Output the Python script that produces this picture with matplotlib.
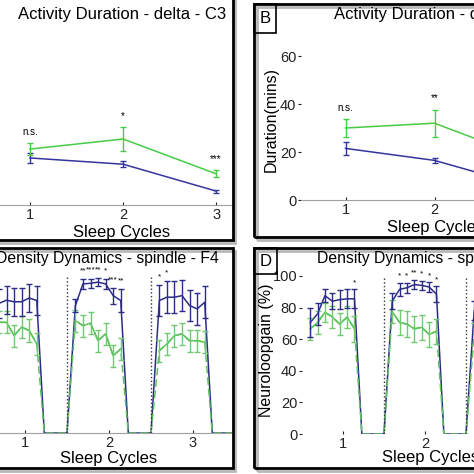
import numpy as np
import matplotlib.pyplot as plt
from matplotlib.patches import Rectangle

plt.rcParams['font.family'] = ['Liberation Sans', 'DejaVu Sans']

W = H = 474

# ---------------- data ----------------
cycles = [1, 2, 3]

# activity duration (mins) - panels A and B
durA_green = [23.3, 27.5, 13.0]
durA_green_err = [2.6, 4.9, 1.5]
durA_blue = [19.6, 17.0, 5.8]
durA_blue_err = [2.0, 1.2, 0.6]
sigA = ['n.s.', '*', '***']

durB_green = [30.0, 32.0, 18.0]
durB_green_err = [3.8, 5.7, 2.0]
durB_blue = [21.5, 16.5, 6.0]
durB_blue_err = [2.8, 1.0, 0.8]
sigB = ['n.s.', '**', '***']

# density dynamics (%) - 7 bins per cycle, then 4 empty bins
densC_blue = [[80, 82, 84, 83, 83, 85.4, 83.8],
              [80.6, 94.3, 94.7, 95.4, 94.3, 86.9, 83.8],
              [83.8, 85.9, 85.9, 86.9, 80.6, 78.5, 82.7]]
densC_blue_err = [[9, 9, 9, 9, 9, 9, 9],
                  [4, 3, 3, 2.5, 3, 5, 7],
                  [10, 10, 10, 10, 10, 10, 10]]
densC_green = [[68, 70, 70, 61.6, 67, 64.8, 56.3],
               [71.1, 67.9, 69.4, 58.4, 62.7, 48.9, 53.2],
               [52.1, 56.3, 61.6, 62.7, 58.4, 58.4, 57.4]]
densC_green_err = [[7, 7, 7, 7, 7, 7, 7],
                   [7, 7, 7, 7, 7, 7, 7],
                   [7, 7, 7, 7, 7, 7, 7]]
sigC_cycle = [2, 2, 2, 2, 2, 2, 3, 3]
sigC_bin = [1, 2, 3, 4, 5, 6, 0, 1]
sigC_label = ['**', '***', '**', '*', '***', '**', '*', '*']

densD_blue = [[70.5, 76, 87.5, 84, 85, 85.5, 85.5],
              [84, 91.5, 92.5, 94.5, 94, 93, 88.5],
              [78, 85, 86, 86, 84, 82, 83]]
densD_blue_err = [[9, 7, 4, 5, 6, 6, 6],
                  [5, 4, 3, 3, 3, 3, 5],
                  [6, 6, 6, 6, 6, 6, 6]]
densD_green = [[66.5, 70.5, 77, 74, 69.5, 74, 66.5],
               [77.5, 70.5, 69.5, 66.5, 67.5, 63, 65],
               [63, 65, 67, 66, 64, 63, 62]]
densD_green_err = [[7, 7, 6, 7, 7, 7, 8],
                   [7, 8, 8, 8, 8, 8, 8],
                   [7, 7, 7, 7, 7, 7, 7]]
sigD_cycle = [1, 2, 2, 2, 2, 2, 2]
sigD_bin = [6, 1, 2, 3, 4, 5, 6]
sigD_label = ['*', '*', '*', '**', '*', '*', '*']

n_bins = 7
n_empty = 4

GREEN = '#46cc46'
BLUE = '#34349c'
GREEN2 = '#5cc45c'
BLUE2 = '#2c2c86'


def px_axes(fig, x0, y0, x1, y1):
    # pixel box (from top-left) -> axes
    return fig.add_axes([x0 / W, 1 - y1 / H, (x1 - x0) / W, (y1 - y0) / H])


def frame(fig, x0, y0, x1, y1, lw, color='black'):
    r = Rectangle((x0 / W, 1 - y1 / H), (x1 - x0) / W, (y1 - y0) / H,
                  transform=fig.transFigure, fill=False, lw=lw,
                  edgecolor=color, clip_on=False)
    fig.add_artist(r)


def style(ax, show_bottom=True, show_ylabels=True):
    ax.patch.set_alpha(0)
    for s in ['top', 'right', 'left']:
        ax.spines[s].set_visible(False)
    ax.spines['bottom'].set_visible(show_bottom)
    ax.spines['bottom'].set_color('#a0a0a0')
    ax.tick_params(axis='x', direction='in', length=2, pad=2,
                   labelsize=10.5, colors='#222222')
    ax.tick_params(axis='y', direction='out', length=2.5, pad=1,
                   labelsize=10.5, colors='#222222',
                   labelleft=show_ylabels, left=show_ylabels)
    ax.set_xticks(cycles)


def duration_panel(ax, green, green_err, blue, blue_err, sig):
    ax.errorbar(cycles, blue, yerr=blue_err, color=BLUE, lw=1.1,
                elinewidth=1, capsize=2)
    ax.errorbar(cycles, green, yerr=green_err, color=GREEN, lw=1.1,
                elinewidth=1, capsize=2)
    for c, g, e, s in zip(cycles, green, green_err, sig):
        ax.text(c, g + e + 2.5, s, ha='center', va='bottom', fontsize=7)
    ax.set_ylim(0, 65)
    ax.set_yticks([0, 20, 40, 60])


def density_panel(ax, blue, blue_err, green, green_err,
                  sig_c, sig_b, sig_l, off):
    xs, bs, gs = [], [], []
    for ci, c in enumerate(cycles):
        for k in range(n_bins + n_empty):
            xs.append(c - 0.4 + 0.09 * k)
            bs.append(blue[ci][k] if k < n_bins else 0)
            gs.append(green[ci][k] if k < n_bins else 0)
    ax.plot(xs, bs, color=BLUE2, lw=1.1)
    ax.plot(xs, gs, color=GREEN2, lw=1.1, dashes=(5, 2.5))
    for ci, c in enumerate(cycles):
        xd = [c - 0.4 + 0.09 * k for k in range(n_bins)]
        ax.plot(xd, green[ci], color=GREEN2, lw=1.1)
        ax.errorbar(xd, green[ci], yerr=green_err[ci], fmt='none',
                    ecolor='#70c870', elinewidth=1, capsize=2)
        ax.errorbar(xd, blue[ci], yerr=blue_err[ci], fmt='none',
                    ecolor=BLUE2, elinewidth=1, capsize=2)
    for c, b, l in zip(sig_c, sig_b, sig_l):
        x = c - 0.4 + 0.09 * b
        y = blue[c - 1][b] + blue_err[c - 1][b] + off
        ax.text(x, y, l, ha='center', va='bottom', fontsize=6)
    ax.vlines([1.5, 2.5], 0, 99, colors='#333333', linestyles=':', lw=1)
    ax.set_ylim(0, 105)
    ax.set_yticks([0, 20, 40, 60, 80, 100])


fig = plt.figure(figsize=(W / 100, H / 100), dpi=100)

# panel A
axA = px_axes(fig, -16.5, 49, 231, 205)
style(axA, show_ylabels=False)
duration_panel(axA, durA_green, durA_green_err, durA_blue, durA_blue_err, sigA)
axA.set_xlim(0.5, 3.16)

# panel B
axB = px_axes(fig, 301, 44, 568, 200)
style(axB)
duration_panel(axB, durB_green, durB_green_err, durB_blue, durB_blue_err, sigB)
axB.set_xlim(0.5, 3.5)

# panel C
axC = px_axes(fig, -17, 267, 231.6, 433)
style(axC, show_ylabels=False)
density_panel(axC, densC_blue, densC_blue_err, densC_green, densC_green_err,
              sigC_cycle, sigC_bin, sigC_label, 3)
axC.set_xlim(0.5, 3.46)

# panel D
axD = px_axes(fig, 302, 268, 548, 434)
style(axD, show_bottom=False)
density_panel(axD, densD_blue, densD_blue_err, densD_green, densD_green_err,
              sigD_cycle, sigD_bin, sigD_label, 2)
axD.set_xlim(0.5, 3.5)

# frames with a soft shadow
boxes = [(-10, -10, 233, 240), (254, 4, 490, 237),
         (-10, 248, 233, 468), (254, 248, 490, 468)]
for x0, y0, x1, y1 in boxes:
    frame(fig, x0 + 2.5, y0 + 2.5, x1 + 2.5, y1 + 2.5, 2, '#b8b8b8')
for x0, y0, x1, y1 in boxes:
    frame(fig, x0, y0, x1, y1, 2)

frame(fig, 254, 4, 276, 33, 1.2)
frame(fig, 254, 248, 277, 274, 1.2)
fig.text(265 / W, 1 - 18.5 / H, 'B', ha='center', va='center', fontsize=12)
fig.text(265.5 / W, 1 - 261 / H, 'D', ha='center', va='center', fontsize=12)

# titles and labels
fig.text(122.5 / W, 1 - 15 / H, 'Activity Duration - delta - C3',
         ha='center', va='center', fontsize=12)
fig.text(334 / W, 1 - 15 / H, 'Activity Duration - delta - C4',
         ha='left', va='center', fontsize=12)
fig.text(219 / W, 1 - 259 / H, 'Density Dynamics - spindle - F4',
         ha='right', va='center', fontsize=11.3)
fig.text(317 / W, 1 - 259 / H, 'Density Dynamics - spindle - C4',
         ha='left', va='center', fontsize=11.3)

for x, y in [(122, 232), (436, 227.5), (109, 458), (431, 457.5)]:
    fig.text(x / W, 1 - y / H, 'Sleep Cycles', ha='center', va='center',
             fontsize=12)

fig.text(271 / W, 1 - 120 / H, 'Duration(mins)', rotation=90,
         ha='center', va='center', fontsize=11.5)
fig.text(266 / W, 1 - 350 / H, 'Neuroloopgain (%)', rotation=90,
         ha='center', va='center', fontsize=11.5)

fig.savefig('out.png', dpi=100)
